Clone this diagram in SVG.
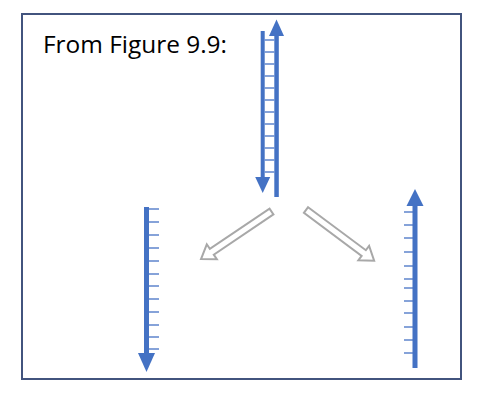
<svg xmlns="http://www.w3.org/2000/svg" width="484" height="401" viewBox="0 0 484 401">
  <style>
    .frame { fill: #ffffff; stroke: #42547e; stroke-width: 2; }
    .bar { fill: #4472C4; }
    .rung { stroke: #4472C4; stroke-width: 1.3; }
    .hollow { fill: #ffffff; stroke: #a8a8a8; stroke-width: 2; stroke-linejoin: miter; }
    .title { font-family: "Open Sans", "Liberation Sans", sans-serif; font-size: 24px; fill: #000000; }
  </style>
  <defs>
    <polygon id="hollowArrow" points="0,-3.5 72,-3.5 72,-9 85,0 72,9 72,3.5 0,3.5"/>
  </defs>
  <rect width="484" height="401" fill="#ffffff"/>
  <rect class="frame" x="22" y="14" width="439" height="365"/>
  <text class="title" x="43" y="53" textLength="184" lengthAdjust="spacingAndGlyphs">From Figure 9.9:</text>

  <g id="top-ladder">
    <rect class="bar" x="260.7" y="31" width="4" height="147"/>
    <polygon class="bar" points="255.2,177 270.2,177 262.7,193"/>
    <rect class="bar" x="274.3" y="35" width="4.5" height="162"/>
    <polygon class="bar" points="269,36 284,36 276.5,19.5"/>
    <g class="rung">
      <line x1="264.7" y1="40" x2="274.3" y2="40"/>
      <line x1="264.7" y1="52" x2="274.3" y2="52"/>
      <line x1="264.7" y1="64" x2="274.3" y2="64"/>
      <line x1="264.7" y1="76" x2="274.3" y2="76"/>
      <line x1="264.7" y1="88" x2="274.3" y2="88"/>
      <line x1="264.7" y1="100" x2="274.3" y2="100"/>
      <line x1="264.7" y1="112" x2="274.3" y2="112"/>
      <line x1="264.7" y1="124" x2="274.3" y2="124"/>
      <line x1="264.7" y1="136" x2="274.3" y2="136"/>
      <line x1="264.7" y1="148" x2="274.3" y2="148"/>
      <line x1="264.7" y1="160" x2="274.3" y2="160"/>
      <line x1="264.7" y1="172" x2="274.3" y2="172"/>
    </g>
  </g>

  <g id="left-ladder">
    <rect class="bar" x="144" y="207" width="5" height="147"/>
    <polygon class="bar" points="138,353 155,353 146.5,372"/>
    <g class="rung">
      <line x1="149" y1="209" x2="159" y2="209"/>
      <line x1="149" y1="222" x2="159" y2="222"/>
      <line x1="149" y1="235" x2="159" y2="235"/>
      <line x1="149" y1="248" x2="159" y2="248"/>
      <line x1="149" y1="261" x2="159" y2="261"/>
      <line x1="149" y1="274" x2="159" y2="274"/>
      <line x1="149" y1="286" x2="159" y2="286"/>
      <line x1="149" y1="299" x2="159" y2="299"/>
      <line x1="149" y1="312" x2="159" y2="312"/>
      <line x1="149" y1="325" x2="159" y2="325"/>
      <line x1="149" y1="337" x2="159" y2="337"/>
      <line x1="149" y1="349" x2="159" y2="349"/>
    </g>
  </g>

  <g id="right-ladder">
    <rect class="bar" x="412.5" y="205" width="5" height="163"/>
    <polygon class="bar" points="406.5,206 423.5,206 415,189"/>
    <g class="rung">
      <line x1="404" y1="212" x2="413" y2="212"/>
      <line x1="404" y1="225" x2="413" y2="225"/>
      <line x1="404" y1="238" x2="413" y2="238"/>
      <line x1="404" y1="252" x2="413" y2="252"/>
      <line x1="404" y1="266" x2="413" y2="266"/>
      <line x1="404" y1="279" x2="413" y2="279"/>
      <line x1="404" y1="288" x2="413" y2="288"/>
      <line x1="404" y1="301" x2="413" y2="301"/>
      <line x1="404" y1="313" x2="413" y2="313"/>
      <line x1="404" y1="327" x2="413" y2="327"/>
      <line x1="404" y1="340" x2="413" y2="340"/>
      <line x1="404" y1="353" x2="413" y2="353"/>
    </g>
  </g>

  <g id="connectors">
    <use href="#hollowArrow" class="hollow" transform="translate(271.5,211.5) rotate(146)"/>
    <use href="#hollowArrow" class="hollow" transform="translate(306,210) rotate(36.7)"/>
  </g>
</svg>
